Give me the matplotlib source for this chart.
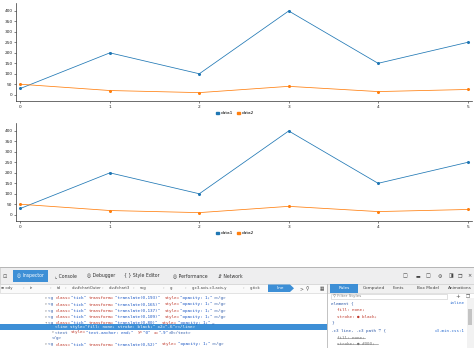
import matplotlib
matplotlib.use('Agg')
import matplotlib.pyplot as plt
from matplotlib.patches import Rectangle, Patch

W, H = 474, 348

x_vals = [0, 1, 2, 3, 4, 5]
data1 = [30, 200, 100, 400, 150, 250]
data2 = [50, 20, 10, 40, 15, 25]
y_ticks = [0, 50, 100, 150, 200, 250, 300, 350, 400]

C1 = "#1f77b4"
C2 = "#ff7f0e"

fig = plt.figure(figsize=(W / 100, H / 100), dpi=100)

# ---- devtools panel drawn in pixel coordinates on a full-figure axes ----
dev = fig.add_axes([0, 0, 1, 1])
dev.set_xlim(0, W)
dev.set_ylim(H, 0)
dev.axis('off')

def rect(x0, y0, x1, y1, fc, ec='none', lw=0.5):
    dev.add_patch(Rectangle((x0, y0), x1 - x0, y1 - y0, fc=fc, ec=ec, lw=lw))

def txt(x, y, s, color='#333', size=3.3, ha='left', mono=False):
    fam = ['DejaVu Sans Mono', 'DejaVu Sans'] if mono else ['DejaVu Sans', 'Noto Sans']
    dev.text(x, y, s, color=color, fontsize=size, ha=ha, va='center', family=fam)

CW = 2.6  # monospace char width in px at size 3.1

def seg_line(x, y, segs, size=3.1):
    for s, c in segs:
        dev.text(x, y, s, color=c, fontsize=size, ha='left', va='center',
                 family=['DejaVu Sans Mono', 'DejaVu Sans'])
        x += len(s) * CW

# toolbar
rect(0, 267, W, 283.5, '#eeeeef', '#c8c8c8', 0.5)
rect(13, 270, 48, 282, '#3d8fd6')
txt(30.5, 276, '◎ Inspector', 'white', 3.3, 'center')
txt(66, 276, '⌞ Console', '#333', 3.3, 'center')
txt(101, 276, '◎ Debugger', '#333', 3.3, 'center')
txt(142, 276, '{ } Style Editor', '#333', 3.3, 'center')
txt(190, 276, '◎ Performance', '#333', 3.3, 'center')
txt(230, 276, '⇵ Network', '#333', 3.3, 'center')
txt(3, 276, '⊡', '#555', 3.6)
for xi, s in zip([406, 418, 428, 440, 451, 460, 469],
                 ['□·', '▬', '□', '⚙', '◨', '❐', '×']):
    txt(xi, 276, s, '#444', 3.6, 'center')

# breadcrumbs + right tabs
rect(0, 283.5, 327, 293, '#fafafa', '#d0d0d0', 0.4)
rect(327, 283.5, W, 293, '#f0f0f0', '#d0d0d0', 0.4)
crumbs = [(1, '≡ ody'), (30, 'tr'), (57, 'td'), (72, 'div#chartOuter'),
          (109, 'div#chart3'), (140, 'svg'), (170, 'g'),
          (192, 'g.c3-axis.c3-axis-y'), (250, 'g.tick')]
for xi, s in crumbs:
    txt(xi, 288.3, s, '#444', 2.7)
    if xi > 20:
        txt(xi - 7, 288.3, '›', '#999', 2.9)
dev.add_patch(plt.Polygon([(268, 284.5), (290, 284.5), (294, 288.3),
                           (290, 292), (268, 292)], fc='#3d8fd6', ec='none'))
txt(280, 288.3, 'line', 'white', 3.0, 'center')
txt(300, 288.3, '>', '#555', 3.3)
txt(306, 288.3, '⚲', '#555', 3.3)
txt(320, 288.3, '▦', '#555', 3.3)

rect(330, 284, 358, 292.5, '#3d8fd6')
txt(344, 288.3, 'Rules', 'white', 3.1, 'center')
for xi, s in [(373.5, 'Computed'), (398, 'Fonts'), (428, 'Box Model'),
              (460, 'Animations')]:
    txt(xi, 288.3, s, '#444', 3.1, 'center')
dev.plot([327, 327], [283.5, H], color='#b8b8b8', lw=0.6)

# markup view
TAG = '#2e5aa8'
NM = '#c0392b'
VAL = '#1a56c4'
GR = '#888888'

def tick_line(ty, arrow='▸', closed=True):
    segs = [(arrow, GR), ('<g ', TAG), ('class=', NM), ('"tick" ', VAL),
            ('transform=', NM), ('"translate(0,%d)" ' % ty, VAL),
            ('style=', NM), ('"opacity: 1;"', VAL)]
    segs.append(('></g>' if closed else '>', TAG))
    return segs

rows = [
    (298, 45, tick_line(193)),
    (304.5, 45, tick_line(165)),
    (311, 45, tick_line(137)),
    (317, 45, tick_line(109)),
    (323, 45, tick_line(80, '▾', closed=False)),
]
for yy, xx, segs in rows:
    seg_line(xx, yy, segs)

rect(0, 324, 327, 329.5, '#3d8fd6')
seg_line(55, 326.7, [('<line style="fill: none; stroke: black;" x2="-6"></line>', 'white')])
seg_line(52, 332.5, [('▸', GR), ('<text ', TAG), ('style=', NM),
                     ('"text-anchor: end;" ', VAL), ('y=', NM), ('"0" ', VAL),
                     ('x=', NM), ('"-9"', VAL), ('>0</text>', TAG)])
seg_line(52, 338.5, [('</g>', TAG)])
seg_line(45, 344.5, tick_line(52))

# rules view
rect(331, 293.5, 447, 298.5, 'white', '#c8c8c8', 0.4)
txt(333, 296, '⚲ Filter Styles', '#888', 3.0)
txt(455, 296, '+', '#555', 4)
txt(466, 296, '❐', '#555', 3.3)
rect(467, 298, W, H, '#f2f2f2')
rect(468.5, 309, 472.5, 325, '#c4c4c4')
SEL = '#2e5aa8'
PROP = '#c0392b'
txt(331, 303, 'element {', SEL, 3.1, mono=True)
txt(465, 303, 'inline', '#2b6dd1', 3.0, 'right', mono=True)
txt(337, 309.5, 'fill: none;', PROP, 3.1, mono=True)
txt(337, 316.5, 'stroke: ● black;', PROP, 3.1, mono=True)
txt(331, 322, '}', SEL, 3.1, mono=True)
txt(331, 331, '.c3 line, .c3 path ▽ {', SEL, 3.1, mono=True)
txt(465, 331, 'c3.min.css:1', '#2b6dd1', 3.0, 'right', mono=True)
txt(337, 337.5, 'fill: none;', '#777', 3.1, mono=True)
dev.plot([337, 365], [337.5, 337.5], color='#777', lw=0.4)
txt(337, 344, 'stroke: ● #000;', '#777', 3.1, mono=True)
dev.plot([337, 378], [344, 344], color='#777', lw=0.4)
dev.plot([0, W], [267, 267], color='#b0b0b0', lw=0.6)

# ---- the two line charts ----
def chart(top_px, bottom_px, legend_y, names):
    ax = fig.add_axes([16 / W, 1 - bottom_px / H, 456 / W, (bottom_px - top_px) / H])
    ax.patch.set_alpha(0)
    ax.plot(x_vals, data1, color=C1, lw=0.55, marker='o', ms=1.2, zorder=3)
    ax.plot(x_vals, data2, color=C2, lw=0.55, marker='o', ms=1.2, zorder=3)
    ax.set_xlim(-0.05, 5.05)
    ax.set_ylim(-30, 438)
    ax.set_xticks(x_vals)
    ax.set_yticks(y_ticks)
    ax.tick_params(labelsize=3.1, length=1.6, width=0.4, pad=1, colors='#222')
    for side in ('top', 'right'):
        ax.spines[side].set_visible(False)
    for side in ('left', 'bottom'):
        ax.spines[side].set_linewidth(0.5)
        ax.spines[side].set_color('#333')
    handles = [Patch(color=C1, label=names[0]), Patch(color=C2, label=names[1])]
    fig.legend(handles=handles, loc='center', ncol=2, frameon=False,
               bbox_to_anchor=(235 / W, 1 - legend_y / H), fontsize=3.1,
               handlelength=0.6, handleheight=0.6, handletextpad=0.4,
               columnspacing=1.0, borderpad=0)
    return ax

chart(3, 101, 113.5, ['data1', 'data2'])
chart(123, 221, 233.5, ['data1', 'data2'])

fig.savefig('out.png', dpi=100)
